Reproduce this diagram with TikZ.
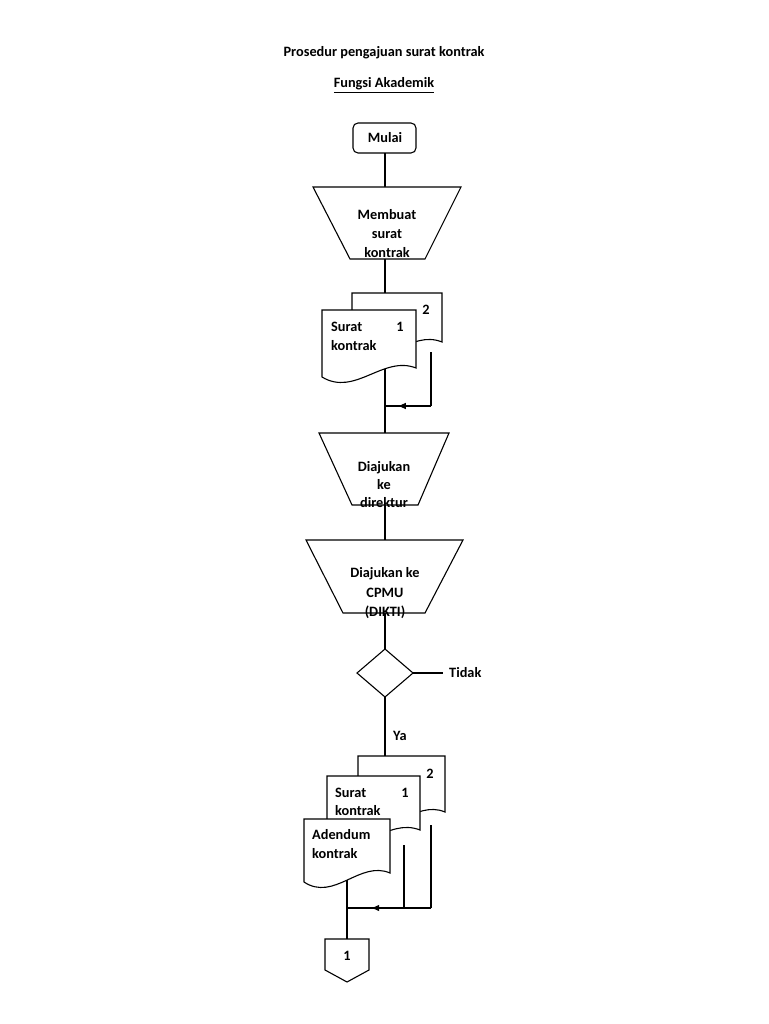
\documentclass[tikz,border=0pt]{standalone}
\usepackage{fontspec}
\setmainfont{Carlito}
\usetikzlibrary{decorations.markings,arrows.meta}
\tikzset{
 ln/.style={line width=1.1pt},
 shp/.style={line width=1.1pt, fill=white, line join=miter},
 txt/.style={font=\fontsize{14.3}{17}\selectfont\bfseries, inner sep=0pt, anchor=base},
 fb/.style={ln, postaction={decorate}, decoration={markings, mark=at position 0.7 with {\arrow{Triangle[length=7pt,width=6pt]}}}}
}
\newcommand\mydoc[4]{%
 \draw[shp] (#1,#2) -- (#3,#2) -- ({#3},{#4-9}) .. controls ({#1+0.65*(#3-#1)},{#4-22}) and ({#1+0.35*(#3-#1)},{#4+20}) .. (#1,#4) -- cycle;}
\begin{document}
\begin{tikzpicture}[x=1pt,y=-1pt]
\fill[white] (0,0) rectangle (768,1024);
\useasboundingbox (0,0) rectangle (768,1024);
% coordinates
\coordinate (mulaiB) at (385,153);
\coordinate (tr1T) at (385,187);
\coordinate (tr1B) at (385,259);
\coordinate (tr2T) at (385,433);
\coordinate (d2out) at (431,352);
\coordinate (c1) at (431,406);
\coordinate (j1) at (385,406);
\coordinate (tr2B) at (385,505);
\coordinate (tr3T) at (385,540);
\coordinate (tr3B) at (385,613);
\coordinate (dmT) at (385,649);
\coordinate (dmR) at (413,673);
\coordinate (dmB) at (385,697);
\coordinate (tidakE) at (443,673);
\coordinate (d5T) at (385,760);
\coordinate (d4out) at (404,845);
\coordinate (c2) at (404,908);
\coordinate (d5out) at (431,825);
\coordinate (c3) at (431,908);
\coordinate (j2) at (347,908);
\coordinate (d3out) at (347,880);
\coordinate (offT) at (347,939);
% connectors
\draw[ln] (mulaiB) -- (tr1T);
\draw[ln] (tr1B) -- (tr2T);
\draw[ln] (d2out) -- (c1);
\draw[fb] (c1) -- (j1);
\draw[ln] (tr2B) -- (tr3T);
\draw[ln] (tr3B) -- (dmT);
\draw[ln] (dmR) -- (tidakE);
\draw[ln] (dmB) -- (d5T);
\draw[ln] (d4out) -- (c2);
\draw[ln] (d5out) -- (c3);
\draw[fb] (c3) -- (j2);
\draw[ln] (d3out) -- (offT);
% shapes
\draw[shp, rounded corners=5pt] (353,123) rectangle (416,153);
\draw[shp] (313,187) -- (461,187) -- (425,259) -- (350,259) -- cycle;
\mydoc{352}{293}{442}{351}
\mydoc{322}{310}{416}{377}
\draw[shp] (319,433) -- (449,433) -- (418,505) -- (352,505) -- cycle;
\draw[shp] (306,540) -- (463,540) -- (425,613) -- (343,613) -- cycle;
\draw[shp] (dmT) -- (dmR) -- (dmB) -- (357,673) -- cycle;
\mydoc{358}{756}{445}{821}
\mydoc{327}{776}{420}{839}
\mydoc{304}{819}{390}{882}
\draw[shp] (325,939) -- (369,939) -- (369,970) -- (347,982) -- (325,970) -- cycle;
% texts
\node[txt] (title) at (384,57) {Prosedur pengajuan surat kontrak};
\node[txt] (fungsi) at (384,88) {\underline{Fungsi Akademik}};
\node[txt] (mulai) at (385,143) {Mulai};
\node[txt] (m1) at (387,219) {Membuat};
\node[txt] (m2) at (387,238) {surat};
\node[txt] (m3) at (387,257) {kontrak};
\node[txt, anchor=base west] (s1) at (331,331) {Surat};
\node[txt, anchor=base west] (s2) at (331,350) {kontrak};
\node[txt] (n1) at (400,331) {1};
\node[txt] (n2) at (426,314) {2};
\node[txt] (a1) at (384,471) {Diajukan};
\node[txt] (a2) at (384,489) {ke};
\node[txt] (a3) at (384,507) {direktur};
\node[txt] (b1) at (385,577) {Diajukan ke};
\node[txt] (b2) at (385,597) {CPMU};
\node[txt] (b3) at (385,616) {(DIKTI)};
\node[txt, anchor=base west] (tidak) at (449,677) {Tidak};
\node[txt, anchor=base west] (ya) at (393,740) {Ya};
\node[txt] (n4) at (430,778) {2};
\node[txt, anchor=base west] (s3) at (335,797) {Surat};
\node[txt, anchor=base west] (s4) at (335,815) {kontrak};
\node[txt] (n3) at (405,797) {1};
\node[txt, anchor=base west] (ad1) at (312,839) {Adendum};
\node[txt, anchor=base west] (ad2) at (312,858) {kontrak};
\node[txt] (off) at (347,960) {1};
\end{tikzpicture}
\end{document}
